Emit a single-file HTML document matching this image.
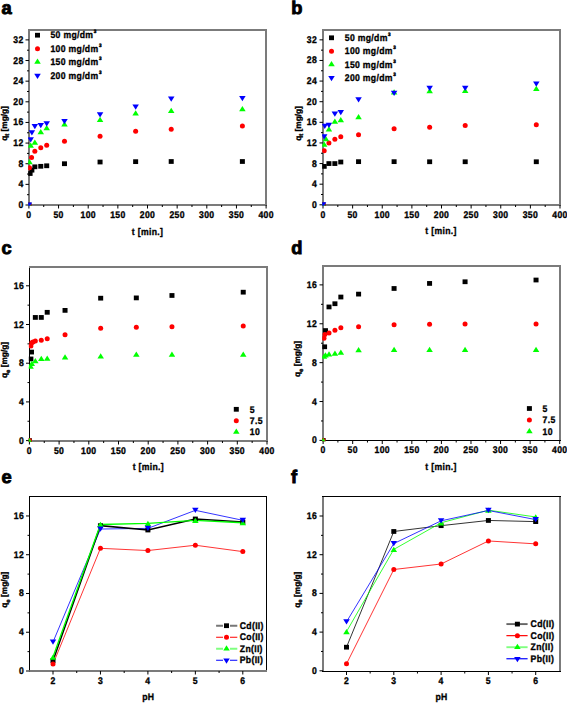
<!DOCTYPE html><html><head><meta charset="utf-8"><style>html,body{margin:0;padding:0;background:#fff;width:567px;height:703px;overflow:hidden}svg{display:block}text{stroke:#000;stroke-width:0.35px}</style></head><body>
<svg width="567" height="703" viewBox="0 0 567 703" text-rendering="geometricPrecision" font-family='"Liberation Sans", sans-serif' font-weight="bold">
<rect width="567" height="703" fill="#fff"/>
<text x="1.5" y="13.7" font-size="18.3" style="stroke-width:0.9px">a</text>
<text x="291.2" y="14.0" font-size="18.3" style="stroke-width:0.9px">b</text>
<text x="1.5" y="253.7" font-size="18.3" style="stroke-width:0.9px">c</text>
<text x="291.2" y="254.2" font-size="18.3" style="stroke-width:0.9px">d</text>
<text x="1.5" y="483.4" font-size="18.3" style="stroke-width:0.9px">e</text>
<text x="290.9" y="483.3" font-size="18.3" style="stroke-width:0.9px">f</text>
<rect x="28" y="29" width="2" height="177" fill="#7b7b7b"/>
<rect x="265" y="29" width="2" height="177" fill="#7b7b7b"/>
<rect x="28" y="29" width="239" height="2" fill="#7b7b7b"/>
<rect x="28" y="204" width="239" height="2" fill="#7b7b7b"/>
<g fill="#000"><rect x="28.40" y="205.00" width="1" height="3.5"/><rect x="58.05" y="205.00" width="1" height="3.5"/><rect x="87.70" y="205.00" width="1" height="3.5"/><rect x="117.35" y="205.00" width="1" height="3.5"/><rect x="147.00" y="205.00" width="1" height="3.5"/><rect x="176.65" y="205.00" width="1" height="3.5"/><rect x="206.30" y="205.00" width="1" height="3.5"/><rect x="235.95" y="205.00" width="1" height="3.5"/><rect x="265.60" y="205.00" width="1" height="3.5"/><rect x="43.22" y="205.00" width="1" height="2"/><rect x="72.88" y="205.00" width="1" height="2"/><rect x="102.53" y="205.00" width="1" height="2"/><rect x="132.17" y="205.00" width="1" height="2"/><rect x="161.82" y="205.00" width="1" height="2"/><rect x="191.47" y="205.00" width="1" height="2"/><rect x="221.12" y="205.00" width="1" height="2"/><rect x="250.78" y="205.00" width="1" height="2"/><rect x="25.50" y="204.50" width="3.5" height="1"/><rect x="25.50" y="183.86" width="3.5" height="1"/><rect x="25.50" y="163.22" width="3.5" height="1"/><rect x="25.50" y="142.58" width="3.5" height="1"/><rect x="25.50" y="121.94" width="3.5" height="1"/><rect x="25.50" y="101.30" width="3.5" height="1"/><rect x="25.50" y="80.66" width="3.5" height="1"/><rect x="25.50" y="60.02" width="3.5" height="1"/><rect x="25.50" y="39.38" width="3.5" height="1"/><rect x="27.00" y="194.18" width="2" height="1"/><rect x="27.00" y="173.54" width="2" height="1"/><rect x="27.00" y="152.90" width="2" height="1"/><rect x="27.00" y="132.26" width="2" height="1"/><rect x="27.00" y="111.62" width="2" height="1"/><rect x="27.00" y="90.98" width="2" height="1"/><rect x="27.00" y="70.34" width="2" height="1"/><rect x="27.00" y="49.70" width="2" height="1"/></g>
<text transform="translate(28.90,217.50) scale(0.9,1)" text-anchor="middle" font-size="9.6" style="letter-spacing:0.35px">0</text>
<text transform="translate(58.55,217.50) scale(0.9,1)" text-anchor="middle" font-size="9.6" style="letter-spacing:0.35px">50</text>
<text transform="translate(88.20,217.50) scale(0.9,1)" text-anchor="middle" font-size="9.6" style="letter-spacing:0.35px">100</text>
<text transform="translate(117.85,217.50) scale(0.9,1)" text-anchor="middle" font-size="9.6" style="letter-spacing:0.35px">150</text>
<text transform="translate(147.50,217.50) scale(0.9,1)" text-anchor="middle" font-size="9.6" style="letter-spacing:0.35px">200</text>
<text transform="translate(177.15,217.50) scale(0.9,1)" text-anchor="middle" font-size="9.6" style="letter-spacing:0.35px">250</text>
<text transform="translate(206.80,217.50) scale(0.9,1)" text-anchor="middle" font-size="9.6" style="letter-spacing:0.35px">300</text>
<text transform="translate(236.45,217.50) scale(0.9,1)" text-anchor="middle" font-size="9.6" style="letter-spacing:0.35px">350</text>
<text transform="translate(266.10,217.50) scale(0.9,1)" text-anchor="middle" font-size="9.6" style="letter-spacing:0.35px">400</text>
<text transform="translate(23.50,208.00) scale(0.9,1)" text-anchor="end" font-size="9.6" style="letter-spacing:0.35px">0</text>
<text transform="translate(23.50,187.36) scale(0.9,1)" text-anchor="end" font-size="9.6" style="letter-spacing:0.35px">4</text>
<text transform="translate(23.50,166.72) scale(0.9,1)" text-anchor="end" font-size="9.6" style="letter-spacing:0.35px">8</text>
<text transform="translate(23.50,146.08) scale(0.9,1)" text-anchor="end" font-size="9.6" style="letter-spacing:0.35px">12</text>
<text transform="translate(23.50,125.44) scale(0.9,1)" text-anchor="end" font-size="9.6" style="letter-spacing:0.35px">16</text>
<text transform="translate(23.50,104.80) scale(0.9,1)" text-anchor="end" font-size="9.6" style="letter-spacing:0.35px">20</text>
<text transform="translate(23.50,84.16) scale(0.9,1)" text-anchor="end" font-size="9.6" style="letter-spacing:0.35px">24</text>
<text transform="translate(23.50,63.52) scale(0.9,1)" text-anchor="end" font-size="9.6" style="letter-spacing:0.35px">28</text>
<text transform="translate(23.50,42.88) scale(0.9,1)" text-anchor="end" font-size="9.6" style="letter-spacing:0.35px">32</text>
<text transform="translate(147.5,234.8) scale(0.9,1)" text-anchor="middle" font-size="9.6" style="letter-spacing:0.35px">t [min.]</text>
<text transform="translate(6.5,123.5) rotate(-90)" text-anchor="middle" font-size="8.3">q<tspan font-size="6" dy="2.6">t</tspan><tspan dy="-2.6"> [mg/g]</tspan></text>
<rect x="35.00" y="32.83" width="5.00" height="4.75" fill="#000"/>
<text transform="translate(50.5,38.40) scale(0.9,1)" font-size="9.6" style="letter-spacing:0.35px">50 mg/dm<tspan font-size="5.2" dx="0.5" dy="-5.2" style="stroke-width:0.45px">3</tspan></text>
<circle cx="37.50" cy="48.65" r="2.50" fill="#f00"/>
<text transform="translate(50.5,51.85) scale(0.9,1)" font-size="9.6" style="letter-spacing:0.35px">100 mg/dm<tspan font-size="5.2" dx="0.5" dy="-5.2" style="stroke-width:0.45px">3</tspan></text>
<path d="M34.25,63.85 L40.75,63.85 L37.50,58.60Z" fill="#0f0"/>
<text transform="translate(50.5,65.30) scale(0.9,1)" font-size="9.6" style="letter-spacing:0.35px">150 mg/dm<tspan font-size="5.2" dx="0.5" dy="-5.2" style="stroke-width:0.45px">3</tspan></text>
<path d="M34.25,73.80 L40.75,73.80 L37.50,79.05Z" fill="#00f"/>
<text transform="translate(50.5,78.75) scale(0.9,1)" font-size="9.6" style="letter-spacing:0.35px">200 mg/dm<tspan font-size="5.2" dx="0.5" dy="-5.2" style="stroke-width:0.45px">3</tspan></text>
<clipPath id="c1"><rect x="28.20" y="22.00" width="245.00" height="183.80"/></clipPath><g clip-path="url(#c1)">
<rect x="26.40" y="202.62" width="5.00" height="4.75" fill="#000"/>
<rect x="27.59" y="171.15" width="5.00" height="4.75" fill="#000"/>
<rect x="29.36" y="167.80" width="5.00" height="4.75" fill="#000"/>
<rect x="32.33" y="164.44" width="5.00" height="4.75" fill="#000"/>
<rect x="38.26" y="163.93" width="5.00" height="4.75" fill="#000"/>
<rect x="44.19" y="163.41" width="5.00" height="4.75" fill="#000"/>
<rect x="61.98" y="161.34" width="5.00" height="4.75" fill="#000"/>
<rect x="97.56" y="159.64" width="5.00" height="4.75" fill="#000"/>
<rect x="133.14" y="159.28" width="5.00" height="4.75" fill="#000"/>
<rect x="168.72" y="159.13" width="5.00" height="4.75" fill="#000"/>
<rect x="239.88" y="159.13" width="5.00" height="4.75" fill="#000"/>
<circle cx="28.90" cy="205.00" r="2.50" fill="#f00"/>
<circle cx="29.49" cy="167.85" r="2.50" fill="#f00"/>
<circle cx="31.57" cy="157.53" r="2.50" fill="#f00"/>
<circle cx="34.83" cy="151.34" r="2.50" fill="#f00"/>
<circle cx="40.76" cy="147.72" r="2.50" fill="#f00"/>
<circle cx="46.69" cy="145.14" r="2.50" fill="#f00"/>
<circle cx="64.48" cy="141.17" r="2.50" fill="#f00"/>
<circle cx="100.06" cy="136.22" r="2.50" fill="#f00"/>
<circle cx="135.64" cy="131.21" r="2.50" fill="#f00"/>
<circle cx="171.22" cy="129.15" r="2.50" fill="#f00"/>
<circle cx="242.38" cy="126.05" r="2.50" fill="#f00"/>
<path d="M25.65,207.62 L32.15,207.62 L28.90,202.38Z" fill="#0f0"/>
<path d="M26.24,164.28 L32.74,164.28 L29.49,159.03Z" fill="#0f0"/>
<path d="M27.43,147.77 L33.93,147.77 L30.68,142.52Z" fill="#0f0"/>
<path d="M31.58,144.67 L38.08,144.67 L34.83,139.42Z" fill="#0f0"/>
<path d="M37.51,134.35 L44.01,134.35 L40.76,129.10Z" fill="#0f0"/>
<path d="M43.44,130.22 L49.94,130.22 L46.69,124.97Z" fill="#0f0"/>
<path d="M61.23,126.61 L67.73,126.61 L64.48,121.36Z" fill="#0f0"/>
<path d="M96.81,121.97 L103.31,121.97 L100.06,116.72Z" fill="#0f0"/>
<path d="M132.39,115.57 L138.89,115.57 L135.64,110.32Z" fill="#0f0"/>
<path d="M167.97,112.89 L174.47,112.89 L171.22,107.64Z" fill="#0f0"/>
<path d="M239.13,111.29 L245.63,111.29 L242.38,106.04Z" fill="#0f0"/>
<path d="M25.65,202.38 L32.15,202.38 L28.90,207.62Z" fill="#00f"/>
<path d="M27.43,137.36 L33.93,137.36 L30.68,142.61Z" fill="#00f"/>
<path d="M28.61,130.13 L35.11,130.13 L31.86,135.38Z" fill="#00f"/>
<path d="M31.58,123.94 L38.08,123.94 L34.83,129.19Z" fill="#00f"/>
<path d="M37.51,122.91 L44.01,122.91 L40.76,128.16Z" fill="#00f"/>
<path d="M43.44,121.36 L49.94,121.36 L46.69,126.61Z" fill="#00f"/>
<path d="M61.23,119.04 L67.73,119.04 L64.48,124.29Z" fill="#00f"/>
<path d="M96.81,112.23 L103.31,112.23 L100.06,117.48Z" fill="#00f"/>
<path d="M132.39,104.49 L138.89,104.49 L135.64,109.74Z" fill="#00f"/>
<path d="M167.97,96.59 L174.47,96.59 L171.22,101.84Z" fill="#00f"/>
<path d="M239.13,96.08 L245.63,96.08 L242.38,101.33Z" fill="#00f"/>
</g>
<rect x="322" y="29" width="2" height="177" fill="#7b7b7b"/>
<rect x="559" y="29" width="2" height="177" fill="#7b7b7b"/>
<rect x="322" y="29" width="239" height="2" fill="#7b7b7b"/>
<rect x="322" y="204" width="239" height="2" fill="#7b7b7b"/>
<g fill="#000"><rect x="322.50" y="205.00" width="1" height="3.5"/><rect x="352.12" y="205.00" width="1" height="3.5"/><rect x="381.75" y="205.00" width="1" height="3.5"/><rect x="411.38" y="205.00" width="1" height="3.5"/><rect x="441.00" y="205.00" width="1" height="3.5"/><rect x="470.62" y="205.00" width="1" height="3.5"/><rect x="500.25" y="205.00" width="1" height="3.5"/><rect x="529.88" y="205.00" width="1" height="3.5"/><rect x="559.50" y="205.00" width="1" height="3.5"/><rect x="337.31" y="205.00" width="1" height="2"/><rect x="366.94" y="205.00" width="1" height="2"/><rect x="396.56" y="205.00" width="1" height="2"/><rect x="426.19" y="205.00" width="1" height="2"/><rect x="455.81" y="205.00" width="1" height="2"/><rect x="485.44" y="205.00" width="1" height="2"/><rect x="515.06" y="205.00" width="1" height="2"/><rect x="544.69" y="205.00" width="1" height="2"/><rect x="319.50" y="204.30" width="3.5" height="1"/><rect x="319.50" y="183.68" width="3.5" height="1"/><rect x="319.50" y="163.06" width="3.5" height="1"/><rect x="319.50" y="142.44" width="3.5" height="1"/><rect x="319.50" y="121.82" width="3.5" height="1"/><rect x="319.50" y="101.20" width="3.5" height="1"/><rect x="319.50" y="80.58" width="3.5" height="1"/><rect x="319.50" y="59.96" width="3.5" height="1"/><rect x="319.50" y="39.34" width="3.5" height="1"/><rect x="321.00" y="193.99" width="2" height="1"/><rect x="321.00" y="173.37" width="2" height="1"/><rect x="321.00" y="152.75" width="2" height="1"/><rect x="321.00" y="132.13" width="2" height="1"/><rect x="321.00" y="111.51" width="2" height="1"/><rect x="321.00" y="90.89" width="2" height="1"/><rect x="321.00" y="70.27" width="2" height="1"/><rect x="321.00" y="49.65" width="2" height="1"/></g>
<text transform="translate(323.00,217.50) scale(0.9,1)" text-anchor="middle" font-size="9.6" style="letter-spacing:0.35px">0</text>
<text transform="translate(352.62,217.50) scale(0.9,1)" text-anchor="middle" font-size="9.6" style="letter-spacing:0.35px">50</text>
<text transform="translate(382.25,217.50) scale(0.9,1)" text-anchor="middle" font-size="9.6" style="letter-spacing:0.35px">100</text>
<text transform="translate(411.88,217.50) scale(0.9,1)" text-anchor="middle" font-size="9.6" style="letter-spacing:0.35px">150</text>
<text transform="translate(441.50,217.50) scale(0.9,1)" text-anchor="middle" font-size="9.6" style="letter-spacing:0.35px">200</text>
<text transform="translate(471.12,217.50) scale(0.9,1)" text-anchor="middle" font-size="9.6" style="letter-spacing:0.35px">250</text>
<text transform="translate(500.75,217.50) scale(0.9,1)" text-anchor="middle" font-size="9.6" style="letter-spacing:0.35px">300</text>
<text transform="translate(530.38,217.50) scale(0.9,1)" text-anchor="middle" font-size="9.6" style="letter-spacing:0.35px">350</text>
<text transform="translate(560.00,217.50) scale(0.9,1)" text-anchor="middle" font-size="9.6" style="letter-spacing:0.35px">400</text>
<text transform="translate(317.00,207.80) scale(0.9,1)" text-anchor="end" font-size="9.6" style="letter-spacing:0.35px">0</text>
<text transform="translate(317.00,187.18) scale(0.9,1)" text-anchor="end" font-size="9.6" style="letter-spacing:0.35px">4</text>
<text transform="translate(317.00,166.56) scale(0.9,1)" text-anchor="end" font-size="9.6" style="letter-spacing:0.35px">8</text>
<text transform="translate(317.00,145.94) scale(0.9,1)" text-anchor="end" font-size="9.6" style="letter-spacing:0.35px">12</text>
<text transform="translate(317.00,125.32) scale(0.9,1)" text-anchor="end" font-size="9.6" style="letter-spacing:0.35px">16</text>
<text transform="translate(317.00,104.70) scale(0.9,1)" text-anchor="end" font-size="9.6" style="letter-spacing:0.35px">20</text>
<text transform="translate(317.00,84.08) scale(0.9,1)" text-anchor="end" font-size="9.6" style="letter-spacing:0.35px">24</text>
<text transform="translate(317.00,63.46) scale(0.9,1)" text-anchor="end" font-size="9.6" style="letter-spacing:0.35px">28</text>
<text transform="translate(317.00,42.84) scale(0.9,1)" text-anchor="end" font-size="9.6" style="letter-spacing:0.35px">32</text>
<text transform="translate(441,234.4) scale(0.9,1)" text-anchor="middle" font-size="9.6" style="letter-spacing:0.35px">t [min.]</text>
<text transform="translate(300.5,123.5) rotate(-90)" text-anchor="middle" font-size="8.3">q<tspan font-size="6" dy="2.6">t</tspan><tspan dy="-2.6"> [mg/g]</tspan></text>
<rect x="329.00" y="35.42" width="5.00" height="4.75" fill="#000"/>
<text transform="translate(344.8,41.00) scale(0.9,1)" font-size="9.6" style="letter-spacing:0.35px">50 mg/dm<tspan font-size="5.2" dx="0.5" dy="-5.2" style="stroke-width:0.45px">3</tspan></text>
<circle cx="331.50" cy="51.15" r="2.50" fill="#f00"/>
<text transform="translate(344.8,54.35) scale(0.9,1)" font-size="9.6" style="letter-spacing:0.35px">100 mg/dm<tspan font-size="5.2" dx="0.5" dy="-5.2" style="stroke-width:0.45px">3</tspan></text>
<path d="M328.25,66.25 L334.75,66.25 L331.50,61.00Z" fill="#0f0"/>
<text transform="translate(344.8,67.70) scale(0.9,1)" font-size="9.6" style="letter-spacing:0.35px">150 mg/dm<tspan font-size="5.2" dx="0.5" dy="-5.2" style="stroke-width:0.45px">3</tspan></text>
<path d="M328.25,76.10 L334.75,76.10 L331.50,81.35Z" fill="#00f"/>
<text transform="translate(344.8,81.05) scale(0.9,1)" font-size="9.6" style="letter-spacing:0.35px">200 mg/dm<tspan font-size="5.2" dx="0.5" dy="-5.2" style="stroke-width:0.45px">3</tspan></text>
<clipPath id="c2"><rect x="322.20" y="22.00" width="245.00" height="183.80"/></clipPath><g clip-path="url(#c2)">
<rect x="320.50" y="202.43" width="5.00" height="4.75" fill="#000"/>
<rect x="321.69" y="164.02" width="5.00" height="4.75" fill="#000"/>
<rect x="326.43" y="161.19" width="5.00" height="4.75" fill="#000"/>
<rect x="332.35" y="161.19" width="5.00" height="4.75" fill="#000"/>
<rect x="338.27" y="159.64" width="5.00" height="4.75" fill="#000"/>
<rect x="356.05" y="159.28" width="5.00" height="4.75" fill="#000"/>
<rect x="391.60" y="159.28" width="5.00" height="4.75" fill="#000"/>
<rect x="427.15" y="159.38" width="5.00" height="4.75" fill="#000"/>
<rect x="462.70" y="159.38" width="5.00" height="4.75" fill="#000"/>
<rect x="533.80" y="159.38" width="5.00" height="4.75" fill="#000"/>
<circle cx="323.00" cy="204.80" r="2.50" fill="#f00"/>
<circle cx="324.19" cy="150.67" r="2.50" fill="#f00"/>
<circle cx="328.93" cy="142.94" r="2.50" fill="#f00"/>
<circle cx="334.85" cy="139.33" r="2.50" fill="#f00"/>
<circle cx="340.77" cy="136.75" r="2.50" fill="#f00"/>
<circle cx="358.55" cy="134.69" r="2.50" fill="#f00"/>
<circle cx="394.10" cy="128.76" r="2.50" fill="#f00"/>
<circle cx="429.65" cy="127.17" r="2.50" fill="#f00"/>
<circle cx="465.20" cy="125.41" r="2.50" fill="#f00"/>
<circle cx="536.30" cy="124.64" r="2.50" fill="#f00"/>
<path d="M319.75,207.43 L326.25,207.43 L323.00,202.18Z" fill="#0f0"/>
<path d="M320.94,146.80 L327.44,146.80 L324.19,141.55Z" fill="#0f0"/>
<path d="M322.71,141.18 L329.21,141.18 L325.96,135.93Z" fill="#0f0"/>
<path d="M325.68,131.39 L332.18,131.39 L328.93,126.14Z" fill="#0f0"/>
<path d="M331.60,123.66 L338.10,123.66 L334.85,118.41Z" fill="#0f0"/>
<path d="M337.52,122.37 L344.02,122.37 L340.77,117.12Z" fill="#0f0"/>
<path d="M355.30,119.27 L361.80,119.27 L358.55,114.02Z" fill="#0f0"/>
<path d="M390.85,94.53 L397.35,94.53 L394.10,89.28Z" fill="#0f0"/>
<path d="M426.40,93.24 L432.90,93.24 L429.65,87.99Z" fill="#0f0"/>
<path d="M461.95,92.98 L468.45,92.98 L465.20,87.73Z" fill="#0f0"/>
<path d="M533.05,90.92 L539.55,90.92 L536.30,85.67Z" fill="#0f0"/>
<path d="M319.75,202.18 L326.25,202.18 L323.00,207.43Z" fill="#00f"/>
<path d="M320.94,134.13 L327.44,134.13 L324.19,139.38Z" fill="#00f"/>
<path d="M321.53,123.82 L328.03,123.82 L324.78,129.07Z" fill="#00f"/>
<path d="M325.68,122.79 L332.18,122.79 L328.93,128.04Z" fill="#00f"/>
<path d="M331.60,111.45 L338.10,111.45 L334.85,116.70Z" fill="#00f"/>
<path d="M337.52,109.90 L344.02,109.90 L340.77,115.15Z" fill="#00f"/>
<path d="M355.30,97.27 L361.80,97.27 L358.55,102.52Z" fill="#00f"/>
<path d="M390.85,90.83 L397.35,90.83 L394.10,96.08Z" fill="#00f"/>
<path d="M426.40,85.67 L432.90,85.67 L429.65,90.92Z" fill="#00f"/>
<path d="M461.95,85.67 L468.45,85.67 L465.20,90.92Z" fill="#00f"/>
<path d="M533.05,81.55 L539.55,81.55 L536.30,86.80Z" fill="#00f"/>
</g>
<rect x="29" y="266" width="1" height="176" fill="#000"/>
<rect x="266" y="266" width="2" height="176" fill="#7b7b7b"/>
<rect x="29" y="266" width="239" height="2" fill="#7b7b7b"/>
<rect x="29" y="440" width="239" height="2" fill="#7b7b7b"/>
<g fill="#000"><rect x="28.90" y="441.00" width="1" height="3.5"/><rect x="58.60" y="441.00" width="1" height="3.5"/><rect x="88.30" y="441.00" width="1" height="3.5"/><rect x="118.00" y="441.00" width="1" height="3.5"/><rect x="147.70" y="441.00" width="1" height="3.5"/><rect x="177.40" y="441.00" width="1" height="3.5"/><rect x="207.10" y="441.00" width="1" height="3.5"/><rect x="236.80" y="441.00" width="1" height="3.5"/><rect x="266.50" y="441.00" width="1" height="3.5"/><rect x="43.75" y="441.00" width="1" height="2"/><rect x="73.45" y="441.00" width="1" height="2"/><rect x="103.15" y="441.00" width="1" height="2"/><rect x="132.85" y="441.00" width="1" height="2"/><rect x="162.55" y="441.00" width="1" height="2"/><rect x="192.25" y="441.00" width="1" height="2"/><rect x="221.95" y="441.00" width="1" height="2"/><rect x="251.65" y="441.00" width="1" height="2"/><rect x="26.00" y="440.10" width="3.5" height="1"/><rect x="26.00" y="401.40" width="3.5" height="1"/><rect x="26.00" y="362.70" width="3.5" height="1"/><rect x="26.00" y="324.00" width="3.5" height="1"/><rect x="26.00" y="285.30" width="3.5" height="1"/><rect x="27.50" y="420.75" width="2" height="1"/><rect x="27.50" y="382.05" width="2" height="1"/><rect x="27.50" y="343.35" width="2" height="1"/><rect x="27.50" y="304.65" width="2" height="1"/></g>
<text transform="translate(29.40,453.50) scale(0.9,1)" text-anchor="middle" font-size="9.6" style="letter-spacing:0.35px">0</text>
<text transform="translate(59.10,453.50) scale(0.9,1)" text-anchor="middle" font-size="9.6" style="letter-spacing:0.35px">50</text>
<text transform="translate(88.80,453.50) scale(0.9,1)" text-anchor="middle" font-size="9.6" style="letter-spacing:0.35px">100</text>
<text transform="translate(118.50,453.50) scale(0.9,1)" text-anchor="middle" font-size="9.6" style="letter-spacing:0.35px">150</text>
<text transform="translate(148.20,453.50) scale(0.9,1)" text-anchor="middle" font-size="9.6" style="letter-spacing:0.35px">200</text>
<text transform="translate(177.90,453.50) scale(0.9,1)" text-anchor="middle" font-size="9.6" style="letter-spacing:0.35px">250</text>
<text transform="translate(207.60,453.50) scale(0.9,1)" text-anchor="middle" font-size="9.6" style="letter-spacing:0.35px">300</text>
<text transform="translate(237.30,453.50) scale(0.9,1)" text-anchor="middle" font-size="9.6" style="letter-spacing:0.35px">350</text>
<text transform="translate(267.00,453.50) scale(0.9,1)" text-anchor="middle" font-size="9.6" style="letter-spacing:0.35px">400</text>
<text transform="translate(24.00,443.60) scale(0.9,1)" text-anchor="end" font-size="9.6" style="letter-spacing:0.35px">0</text>
<text transform="translate(24.00,404.90) scale(0.9,1)" text-anchor="end" font-size="9.6" style="letter-spacing:0.35px">4</text>
<text transform="translate(24.00,366.20) scale(0.9,1)" text-anchor="end" font-size="9.6" style="letter-spacing:0.35px">8</text>
<text transform="translate(24.00,327.50) scale(0.9,1)" text-anchor="end" font-size="9.6" style="letter-spacing:0.35px">12</text>
<text transform="translate(24.00,288.80) scale(0.9,1)" text-anchor="end" font-size="9.6" style="letter-spacing:0.35px">16</text>
<text transform="translate(148.3,470.4) scale(0.9,1)" text-anchor="middle" font-size="9.6" style="letter-spacing:0.35px">t [min.]</text>
<text transform="translate(7.0,360) rotate(-90)" text-anchor="middle" font-size="8.3">q<tspan font-size="6" dy="2.6">e</tspan><tspan dy="-2.6"> [mg/g]</tspan></text>
<rect x="233.80" y="406.93" width="5.00" height="4.75" fill="#000"/>
<text transform="translate(249.8,412.50) scale(0.9,1)" font-size="9.6" style="letter-spacing:0.35px">5</text>
<circle cx="236.30" cy="420.70" r="2.50" fill="#f00"/>
<text transform="translate(249.8,423.90) scale(0.9,1)" font-size="9.6" style="letter-spacing:0.35px">7.5</text>
<path d="M233.05,433.85 L239.55,433.85 L236.30,428.60Z" fill="#0f0"/>
<text transform="translate(249.8,435.30) scale(0.9,1)" font-size="9.6" style="letter-spacing:0.35px">10</text>
<clipPath id="c3"><rect x="28.70" y="259.00" width="245.50" height="182.80"/></clipPath><g clip-path="url(#c3)">
<rect x="26.90" y="438.23" width="5.00" height="4.75" fill="#000"/>
<rect x="28.38" y="356.57" width="5.00" height="4.75" fill="#000"/>
<rect x="28.98" y="349.70" width="5.00" height="4.75" fill="#000"/>
<rect x="32.84" y="315.06" width="5.00" height="4.75" fill="#000"/>
<rect x="38.78" y="315.06" width="5.00" height="4.75" fill="#000"/>
<rect x="44.72" y="309.93" width="5.00" height="4.75" fill="#000"/>
<rect x="62.54" y="308.00" width="5.00" height="4.75" fill="#000"/>
<rect x="98.18" y="295.81" width="5.00" height="4.75" fill="#000"/>
<rect x="133.82" y="295.52" width="5.00" height="4.75" fill="#000"/>
<rect x="169.46" y="293.10" width="5.00" height="4.75" fill="#000"/>
<rect x="240.74" y="289.81" width="5.00" height="4.75" fill="#000"/>
<circle cx="29.40" cy="440.60" r="2.50" fill="#f00"/>
<circle cx="30.88" cy="346.08" r="2.50" fill="#f00"/>
<circle cx="31.78" cy="342.69" r="2.50" fill="#f00"/>
<circle cx="32.96" cy="341.92" r="2.50" fill="#f00"/>
<circle cx="35.34" cy="341.04" r="2.50" fill="#f00"/>
<circle cx="41.28" cy="340.17" r="2.50" fill="#f00"/>
<circle cx="47.22" cy="338.72" r="2.50" fill="#f00"/>
<circle cx="65.04" cy="334.66" r="2.50" fill="#f00"/>
<circle cx="100.68" cy="328.37" r="2.50" fill="#f00"/>
<circle cx="136.32" cy="327.31" r="2.50" fill="#f00"/>
<circle cx="171.96" cy="326.63" r="2.50" fill="#f00"/>
<circle cx="243.24" cy="325.95" r="2.50" fill="#f00"/>
<path d="M26.15,443.23 L32.65,443.23 L29.40,437.98Z" fill="#0f0"/>
<path d="M27.34,368.82 L33.84,368.82 L30.59,363.57Z" fill="#0f0"/>
<path d="M28.53,366.02 L35.03,366.02 L31.78,360.77Z" fill="#0f0"/>
<path d="M32.09,363.21 L38.59,363.21 L35.34,357.96Z" fill="#0f0"/>
<path d="M38.03,360.99 L44.53,360.99 L41.28,355.74Z" fill="#0f0"/>
<path d="M43.97,360.70 L50.47,360.70 L47.22,355.45Z" fill="#0f0"/>
<path d="M61.79,359.54 L68.29,359.54 L65.04,354.29Z" fill="#0f0"/>
<path d="M97.43,358.38 L103.93,358.38 L100.68,353.13Z" fill="#0f0"/>
<path d="M133.07,356.63 L139.57,356.63 L136.32,351.38Z" fill="#0f0"/>
<path d="M168.71,356.63 L175.21,356.63 L171.96,351.38Z" fill="#0f0"/>
<path d="M239.99,356.63 L246.49,356.63 L243.24,351.38Z" fill="#0f0"/>
</g>
<rect x="322" y="265" width="2" height="176" fill="#7b7b7b"/>
<rect x="559" y="265" width="2" height="176" fill="#7b7b7b"/>
<rect x="322" y="265" width="239" height="2" fill="#7b7b7b"/>
<rect x="322" y="440" width="239" height="1" fill="#000"/>
<g fill="#000"><rect x="322.60" y="440.50" width="1" height="3.5"/><rect x="352.18" y="440.50" width="1" height="3.5"/><rect x="381.75" y="440.50" width="1" height="3.5"/><rect x="411.33" y="440.50" width="1" height="3.5"/><rect x="440.90" y="440.50" width="1" height="3.5"/><rect x="470.48" y="440.50" width="1" height="3.5"/><rect x="500.05" y="440.50" width="1" height="3.5"/><rect x="529.62" y="440.50" width="1" height="3.5"/><rect x="559.20" y="440.50" width="1" height="3.5"/><rect x="337.39" y="440.50" width="1" height="2"/><rect x="366.96" y="440.50" width="1" height="2"/><rect x="396.54" y="440.50" width="1" height="2"/><rect x="426.11" y="440.50" width="1" height="2"/><rect x="455.69" y="440.50" width="1" height="2"/><rect x="485.26" y="440.50" width="1" height="2"/><rect x="514.84" y="440.50" width="1" height="2"/><rect x="544.41" y="440.50" width="1" height="2"/><rect x="319.50" y="439.90" width="3.5" height="1"/><rect x="319.50" y="401.02" width="3.5" height="1"/><rect x="319.50" y="362.14" width="3.5" height="1"/><rect x="319.50" y="323.26" width="3.5" height="1"/><rect x="319.50" y="284.38" width="3.5" height="1"/><rect x="321.00" y="420.46" width="2" height="1"/><rect x="321.00" y="381.58" width="2" height="1"/><rect x="321.00" y="342.70" width="2" height="1"/><rect x="321.00" y="303.82" width="2" height="1"/></g>
<text transform="translate(323.10,453.00) scale(0.9,1)" text-anchor="middle" font-size="9.6" style="letter-spacing:0.35px">0</text>
<text transform="translate(352.68,453.00) scale(0.9,1)" text-anchor="middle" font-size="9.6" style="letter-spacing:0.35px">50</text>
<text transform="translate(382.25,453.00) scale(0.9,1)" text-anchor="middle" font-size="9.6" style="letter-spacing:0.35px">100</text>
<text transform="translate(411.83,453.00) scale(0.9,1)" text-anchor="middle" font-size="9.6" style="letter-spacing:0.35px">150</text>
<text transform="translate(441.40,453.00) scale(0.9,1)" text-anchor="middle" font-size="9.6" style="letter-spacing:0.35px">200</text>
<text transform="translate(470.98,453.00) scale(0.9,1)" text-anchor="middle" font-size="9.6" style="letter-spacing:0.35px">250</text>
<text transform="translate(500.55,453.00) scale(0.9,1)" text-anchor="middle" font-size="9.6" style="letter-spacing:0.35px">300</text>
<text transform="translate(530.12,453.00) scale(0.9,1)" text-anchor="middle" font-size="9.6" style="letter-spacing:0.35px">350</text>
<text transform="translate(559.70,453.00) scale(0.9,1)" text-anchor="middle" font-size="9.6" style="letter-spacing:0.35px">400</text>
<text transform="translate(317.00,443.40) scale(0.9,1)" text-anchor="end" font-size="9.6" style="letter-spacing:0.35px">0</text>
<text transform="translate(317.00,404.52) scale(0.9,1)" text-anchor="end" font-size="9.6" style="letter-spacing:0.35px">4</text>
<text transform="translate(317.00,365.64) scale(0.9,1)" text-anchor="end" font-size="9.6" style="letter-spacing:0.35px">8</text>
<text transform="translate(317.00,326.76) scale(0.9,1)" text-anchor="end" font-size="9.6" style="letter-spacing:0.35px">12</text>
<text transform="translate(317.00,287.88) scale(0.9,1)" text-anchor="end" font-size="9.6" style="letter-spacing:0.35px">16</text>
<text transform="translate(441,469.9) scale(0.9,1)" text-anchor="middle" font-size="9.6" style="letter-spacing:0.35px">t [min.]</text>
<text transform="translate(300.0,359) rotate(-90)" text-anchor="middle" font-size="8.3">q<tspan font-size="6" dy="2.6">e</tspan><tspan dy="-2.6"> [mg/g]</tspan></text>
<rect x="526.90" y="406.12" width="5.00" height="4.75" fill="#000"/>
<text transform="translate(542.6,411.70) scale(0.9,1)" font-size="9.6" style="letter-spacing:0.35px">5</text>
<circle cx="529.40" cy="420.00" r="2.50" fill="#f00"/>
<text transform="translate(542.6,423.20) scale(0.9,1)" font-size="9.6" style="letter-spacing:0.35px">7.5</text>
<path d="M526.15,433.25 L532.65,433.25 L529.40,428.00Z" fill="#0f0"/>
<text transform="translate(542.6,434.70) scale(0.9,1)" font-size="9.6" style="letter-spacing:0.35px">10</text>
<clipPath id="c4"><rect x="322.20" y="258.00" width="245.00" height="183.30"/></clipPath><g clip-path="url(#c4)">
<rect x="320.60" y="438.02" width="5.00" height="4.75" fill="#000"/>
<rect x="322.08" y="344.42" width="5.00" height="4.75" fill="#000"/>
<rect x="322.97" y="328.19" width="5.00" height="4.75" fill="#000"/>
<rect x="326.52" y="304.57" width="5.00" height="4.75" fill="#000"/>
<rect x="332.43" y="301.36" width="5.00" height="4.75" fill="#000"/>
<rect x="338.35" y="294.65" width="5.00" height="4.75" fill="#000"/>
<rect x="356.09" y="291.74" width="5.00" height="4.75" fill="#000"/>
<rect x="391.58" y="286.10" width="5.00" height="4.75" fill="#000"/>
<rect x="427.07" y="281.05" width="5.00" height="4.75" fill="#000"/>
<rect x="462.56" y="279.39" width="5.00" height="4.75" fill="#000"/>
<rect x="533.54" y="277.64" width="5.00" height="4.75" fill="#000"/>
<circle cx="323.10" cy="440.40" r="2.50" fill="#f00"/>
<circle cx="323.99" cy="338.34" r="2.50" fill="#f00"/>
<circle cx="324.87" cy="334.45" r="2.50" fill="#f00"/>
<circle cx="329.02" cy="333.09" r="2.50" fill="#f00"/>
<circle cx="334.93" cy="330.27" r="2.50" fill="#f00"/>
<circle cx="340.85" cy="327.65" r="2.50" fill="#f00"/>
<circle cx="358.59" cy="326.68" r="2.50" fill="#f00"/>
<circle cx="394.08" cy="324.63" r="2.50" fill="#f00"/>
<circle cx="429.57" cy="324.34" r="2.50" fill="#f00"/>
<circle cx="465.06" cy="324.05" r="2.50" fill="#f00"/>
<circle cx="536.04" cy="324.05" r="2.50" fill="#f00"/>
<path d="M319.85,443.02 L326.35,443.02 L323.10,437.77Z" fill="#0f0"/>
<path d="M320.74,358.75 L327.24,358.75 L323.99,353.50Z" fill="#0f0"/>
<path d="M322.22,357.49 L328.72,357.49 L325.47,352.24Z" fill="#0f0"/>
<path d="M325.77,356.52 L332.27,356.52 L329.02,351.27Z" fill="#0f0"/>
<path d="M331.68,355.74 L338.18,355.74 L334.93,350.49Z" fill="#0f0"/>
<path d="M337.60,354.86 L344.10,354.86 L340.85,349.61Z" fill="#0f0"/>
<path d="M355.34,352.34 L361.84,352.34 L358.59,347.09Z" fill="#0f0"/>
<path d="M390.83,352.05 L397.33,352.05 L394.08,346.80Z" fill="#0f0"/>
<path d="M426.32,352.05 L432.82,352.05 L429.57,346.80Z" fill="#0f0"/>
<path d="M461.81,352.05 L468.31,352.05 L465.06,346.80Z" fill="#0f0"/>
<path d="M532.79,352.05 L539.29,352.05 L536.04,346.80Z" fill="#0f0"/>
</g>
<rect x="29" y="496" width="1" height="176" fill="#000"/>
<rect x="266" y="496" width="1" height="176" fill="#000"/>
<rect x="29" y="496" width="238" height="1" fill="#000"/>
<rect x="29" y="670" width="238" height="2" fill="#7b7b7b"/>
<g fill="#000"><rect x="52.50" y="671.00" width="1" height="3.5"/><rect x="99.95" y="671.00" width="1" height="3.5"/><rect x="147.40" y="671.00" width="1" height="3.5"/><rect x="194.85" y="671.00" width="1" height="3.5"/><rect x="242.30" y="671.00" width="1" height="3.5"/><rect x="76.22" y="671.00" width="1" height="2"/><rect x="123.68" y="671.00" width="1" height="2"/><rect x="171.12" y="671.00" width="1" height="2"/><rect x="218.58" y="671.00" width="1" height="2"/><rect x="26.00" y="670.50" width="3.5" height="1"/><rect x="26.00" y="631.74" width="3.5" height="1"/><rect x="26.00" y="592.98" width="3.5" height="1"/><rect x="26.00" y="554.22" width="3.5" height="1"/><rect x="26.00" y="515.46" width="3.5" height="1"/><rect x="27.50" y="651.12" width="2" height="1"/><rect x="27.50" y="612.36" width="2" height="1"/><rect x="27.50" y="573.60" width="2" height="1"/><rect x="27.50" y="534.84" width="2" height="1"/></g>
<text transform="translate(53.00,683.50) scale(0.9,1)" text-anchor="middle" font-size="9.6" style="letter-spacing:0.35px">2</text>
<text transform="translate(100.45,683.50) scale(0.9,1)" text-anchor="middle" font-size="9.6" style="letter-spacing:0.35px">3</text>
<text transform="translate(147.90,683.50) scale(0.9,1)" text-anchor="middle" font-size="9.6" style="letter-spacing:0.35px">4</text>
<text transform="translate(195.35,683.50) scale(0.9,1)" text-anchor="middle" font-size="9.6" style="letter-spacing:0.35px">5</text>
<text transform="translate(242.80,683.50) scale(0.9,1)" text-anchor="middle" font-size="9.6" style="letter-spacing:0.35px">6</text>
<text transform="translate(24.00,674.00) scale(0.9,1)" text-anchor="end" font-size="9.6" style="letter-spacing:0.35px">0</text>
<text transform="translate(24.00,635.24) scale(0.9,1)" text-anchor="end" font-size="9.6" style="letter-spacing:0.35px">4</text>
<text transform="translate(24.00,596.48) scale(0.9,1)" text-anchor="end" font-size="9.6" style="letter-spacing:0.35px">8</text>
<text transform="translate(24.00,557.72) scale(0.9,1)" text-anchor="end" font-size="9.6" style="letter-spacing:0.35px">12</text>
<text transform="translate(24.00,518.96) scale(0.9,1)" text-anchor="end" font-size="9.6" style="letter-spacing:0.35px">16</text>
<text transform="translate(148.3,699.9) scale(0.9,1)" text-anchor="middle" font-size="9.6" style="letter-spacing:0.35px">pH</text>
<text transform="translate(7.0,589.7) rotate(-90)" text-anchor="middle" font-size="8.3">q<tspan font-size="6" dy="2.6">e</tspan><tspan dy="-2.6"> [mg/g]</tspan></text>
<polyline points="53.00,664.12 100.45,548.32 147.90,550.55 195.35,545.22 242.80,551.62" fill="none" stroke="#f00" stroke-width="0.8"/>
<polyline points="53.00,642.03 100.45,529.04 147.90,528.36 195.35,510.34 242.80,520.32" fill="none" stroke="#00f" stroke-width="0.8"/>
<polyline points="53.00,660.63 100.45,525.65 147.90,530.01 195.35,518.96 242.80,522.06" fill="none" stroke="#000" stroke-width="1.5"/>
<polyline points="53.00,657.05 100.45,524.49 147.90,523.42 195.35,520.32 242.80,522.74" fill="none" stroke="#0f0" stroke-width="1.3"/>
<rect x="50.50" y="658.26" width="5.00" height="4.75" fill="#000"/>
<rect x="97.95" y="523.27" width="5.00" height="4.75" fill="#000"/>
<rect x="145.40" y="527.64" width="5.00" height="4.75" fill="#000"/>
<rect x="192.85" y="516.59" width="5.00" height="4.75" fill="#000"/>
<rect x="240.30" y="519.69" width="5.00" height="4.75" fill="#000"/>
<circle cx="53.00" cy="664.12" r="2.50" fill="#f00"/>
<circle cx="100.45" cy="548.32" r="2.50" fill="#f00"/>
<circle cx="147.90" cy="550.55" r="2.50" fill="#f00"/>
<circle cx="195.35" cy="545.22" r="2.50" fill="#f00"/>
<circle cx="242.80" cy="551.62" r="2.50" fill="#f00"/>
<path d="M49.75,659.67 L56.25,659.67 L53.00,654.42Z" fill="#0f0"/>
<path d="M97.20,527.11 L103.70,527.11 L100.45,521.86Z" fill="#0f0"/>
<path d="M144.65,526.05 L151.15,526.05 L147.90,520.80Z" fill="#0f0"/>
<path d="M192.10,522.95 L198.60,522.95 L195.35,517.70Z" fill="#0f0"/>
<path d="M239.55,525.37 L246.05,525.37 L242.80,520.12Z" fill="#0f0"/>
<path d="M49.75,639.40 L56.25,639.40 L53.00,644.65Z" fill="#00f"/>
<path d="M97.20,526.42 L103.70,526.42 L100.45,531.67Z" fill="#00f"/>
<path d="M144.65,525.74 L151.15,525.74 L147.90,530.99Z" fill="#00f"/>
<path d="M192.10,507.71 L198.60,507.71 L195.35,512.96Z" fill="#00f"/>
<path d="M239.55,517.70 L246.05,517.70 L242.80,522.95Z" fill="#00f"/>
<path d="M216.1,625.70H223M230,625.70H237.3" stroke="#777" stroke-width="2.0"/>
<rect x="224.00" y="623.33" width="5.00" height="4.75" fill="#000"/>
<text transform="translate(239.8,628.90) scale(0.9,1)" font-size="9.6" style="letter-spacing:0.35px">Cd(II)</text>
<path d="M216.1,637.23H223M230,637.23H237.3" stroke="#f00" stroke-width="1.1"/>
<circle cx="226.50" cy="637.23" r="2.50" fill="#f00"/>
<text transform="translate(239.8,640.43) scale(0.9,1)" font-size="9.6" style="letter-spacing:0.35px">Co(II)</text>
<path d="M216.1,648.76H223M230,648.76H237.3" stroke="#80ff80" stroke-width="2.0"/>
<path d="M223.25,650.51 L229.75,650.51 L226.50,645.26Z" fill="#0f0"/>
<text transform="translate(239.8,651.96) scale(0.9,1)" font-size="9.6" style="letter-spacing:0.35px">Zn(II)</text>
<path d="M216.1,660.29H223M230,660.29H237.3" stroke="#00f" stroke-width="1.1"/>
<path d="M223.25,658.54 L229.75,658.54 L226.50,663.79Z" fill="#00f"/>
<text transform="translate(239.8,663.49) scale(0.9,1)" font-size="9.6" style="letter-spacing:0.35px">Pb(II)</text>
<rect x="322" y="496" width="2" height="176" fill="#7b7b7b"/>
<rect x="559" y="496" width="2" height="176" fill="#7b7b7b"/>
<rect x="322" y="496" width="239" height="1" fill="#000"/>
<rect x="322" y="671" width="239" height="1" fill="#000"/>
<g fill="#000"><rect x="346.00" y="671.50" width="1" height="3.5"/><rect x="393.30" y="671.50" width="1" height="3.5"/><rect x="440.60" y="671.50" width="1" height="3.5"/><rect x="487.90" y="671.50" width="1" height="3.5"/><rect x="535.20" y="671.50" width="1" height="3.5"/><rect x="369.65" y="671.50" width="1" height="2"/><rect x="416.95" y="671.50" width="1" height="2"/><rect x="464.25" y="671.50" width="1" height="2"/><rect x="511.55" y="671.50" width="1" height="2"/><rect x="319.50" y="670.30" width="3.5" height="1"/><rect x="319.50" y="631.60" width="3.5" height="1"/><rect x="319.50" y="592.90" width="3.5" height="1"/><rect x="319.50" y="554.20" width="3.5" height="1"/><rect x="319.50" y="515.50" width="3.5" height="1"/><rect x="321.00" y="650.95" width="2" height="1"/><rect x="321.00" y="612.25" width="2" height="1"/><rect x="321.00" y="573.55" width="2" height="1"/><rect x="321.00" y="534.85" width="2" height="1"/></g>
<text transform="translate(346.50,684.00) scale(0.9,1)" text-anchor="middle" font-size="9.6" style="letter-spacing:0.35px">2</text>
<text transform="translate(393.80,684.00) scale(0.9,1)" text-anchor="middle" font-size="9.6" style="letter-spacing:0.35px">3</text>
<text transform="translate(441.10,684.00) scale(0.9,1)" text-anchor="middle" font-size="9.6" style="letter-spacing:0.35px">4</text>
<text transform="translate(488.40,684.00) scale(0.9,1)" text-anchor="middle" font-size="9.6" style="letter-spacing:0.35px">5</text>
<text transform="translate(535.70,684.00) scale(0.9,1)" text-anchor="middle" font-size="9.6" style="letter-spacing:0.35px">6</text>
<text transform="translate(317.00,673.80) scale(0.9,1)" text-anchor="end" font-size="9.6" style="letter-spacing:0.35px">0</text>
<text transform="translate(317.00,635.10) scale(0.9,1)" text-anchor="end" font-size="9.6" style="letter-spacing:0.35px">4</text>
<text transform="translate(317.00,596.40) scale(0.9,1)" text-anchor="end" font-size="9.6" style="letter-spacing:0.35px">8</text>
<text transform="translate(317.00,557.70) scale(0.9,1)" text-anchor="end" font-size="9.6" style="letter-spacing:0.35px">12</text>
<text transform="translate(317.00,519.00) scale(0.9,1)" text-anchor="end" font-size="9.6" style="letter-spacing:0.35px">16</text>
<text transform="translate(441.6,699.9) scale(0.9,1)" text-anchor="middle" font-size="9.6" style="letter-spacing:0.35px">pH</text>
<text transform="translate(299.8,589.7) rotate(-90)" text-anchor="middle" font-size="8.3">q<tspan font-size="6" dy="2.6">e</tspan><tspan dy="-2.6"> [mg/g]</tspan></text>
<polyline points="346.50,647.19 393.80,531.48 441.10,525.67 488.40,520.45 535.70,521.61" fill="none" stroke="#000" stroke-width="0.8"/>
<rect x="344.00" y="644.82" width="5.00" height="4.75" fill="#000"/>
<rect x="391.30" y="529.10" width="5.00" height="4.75" fill="#000"/>
<rect x="438.60" y="523.30" width="5.00" height="4.75" fill="#000"/>
<rect x="485.90" y="518.08" width="5.00" height="4.75" fill="#000"/>
<rect x="533.20" y="519.24" width="5.00" height="4.75" fill="#000"/>
<polyline points="346.50,663.83 393.80,569.50 441.10,563.99 488.40,540.96 535.70,543.86" fill="none" stroke="#f00" stroke-width="0.8"/>
<circle cx="346.50" cy="663.83" r="2.50" fill="#f00"/>
<circle cx="393.80" cy="569.50" r="2.50" fill="#f00"/>
<circle cx="441.10" cy="563.99" r="2.50" fill="#f00"/>
<circle cx="488.40" cy="540.96" r="2.50" fill="#f00"/>
<circle cx="535.70" cy="543.86" r="2.50" fill="#f00"/>
<polyline points="346.50,631.62 393.80,549.38 441.10,522.77 488.40,510.19 535.70,516.97" fill="none" stroke="#0f0" stroke-width="0.8"/>
<path d="M343.25,634.24 L349.75,634.24 L346.50,628.99Z" fill="#0f0"/>
<path d="M390.55,552.00 L397.05,552.00 L393.80,546.75Z" fill="#0f0"/>
<path d="M437.85,525.40 L444.35,525.40 L441.10,520.15Z" fill="#0f0"/>
<path d="M485.15,512.82 L491.65,512.82 L488.40,507.57Z" fill="#0f0"/>
<path d="M532.45,519.59 L538.95,519.59 L535.70,514.34Z" fill="#0f0"/>
<polyline points="346.50,621.84 393.80,543.57 441.10,520.84 488.40,510.49 535.70,519.58" fill="none" stroke="#00f" stroke-width="0.8"/>
<path d="M343.25,619.22 L349.75,619.22 L346.50,624.47Z" fill="#00f"/>
<path d="M390.55,540.95 L397.05,540.95 L393.80,546.20Z" fill="#00f"/>
<path d="M437.85,518.21 L444.35,518.21 L441.10,523.46Z" fill="#00f"/>
<path d="M485.15,507.86 L491.65,507.86 L488.40,513.11Z" fill="#00f"/>
<path d="M532.45,516.95 L538.95,516.95 L535.70,522.20Z" fill="#00f"/>
<path d="M506.4,624.10H527.6" stroke="#666" stroke-width="1.9"/>
<rect x="514.90" y="621.73" width="5.00" height="4.75" fill="#000"/>
<text transform="translate(530.6,627.30) scale(0.9,1)" font-size="9.6" style="letter-spacing:0.35px">Cd(II)</text>
<path d="M506.4,635.65H527.6" stroke="#f00" stroke-width="1.2"/>
<circle cx="517.40" cy="635.65" r="2.50" fill="#f00"/>
<text transform="translate(530.6,638.85) scale(0.9,1)" font-size="9.6" style="letter-spacing:0.35px">Co(II)</text>
<path d="M506.4,647.20H527.6" stroke="#80ff80" stroke-width="1.9"/>
<path d="M514.15,648.95 L520.65,648.95 L517.40,643.70Z" fill="#0f0"/>
<text transform="translate(530.6,650.40) scale(0.9,1)" font-size="9.6" style="letter-spacing:0.35px">Zn(II)</text>
<path d="M506.4,658.75H527.6" stroke="#00f" stroke-width="1.2"/>
<path d="M514.15,657.00 L520.65,657.00 L517.40,662.25Z" fill="#00f"/>
<text transform="translate(530.6,661.95) scale(0.9,1)" font-size="9.6" style="letter-spacing:0.35px">Pb(II)</text>
</svg></body></html>
